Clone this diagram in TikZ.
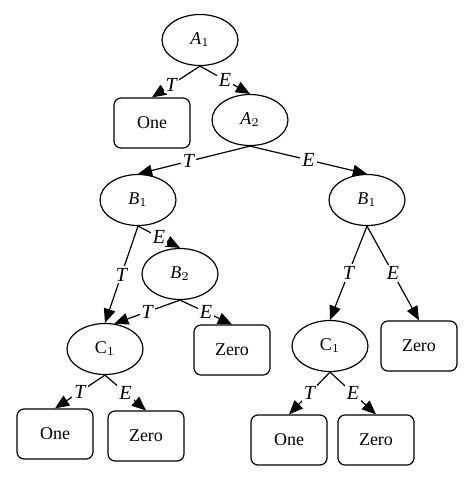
\documentclass[tikz,border=0pt]{standalone}
\usepackage{fontspec}
\setmainfont{Liberation Serif}
\usetikzlibrary{shapes.geometric, arrows}
\tikzstyle{test} = [ellipse, minimum width=38pt, minimum height=25.5pt, inner sep=0pt, text centered, draw=black, line width=0.6pt]
\tikzstyle{leaf} = [rectangle, rounded corners=3.5pt, minimum width=38pt, minimum height=25pt, inner sep=0pt, text centered, draw=black, line width=0.6pt]
\tikzstyle{edge} = [line width=0.6pt, -triangle 45]
\tikzstyle{lbl} = [fill=white, inner sep=1pt, font=\itshape]

\begin{document}
\begin{tikzpicture}[node distance=40pt, font=\fontsize{9}{11}\selectfont]
\useasboundingbox (0,0) rectangle (237pt,-242pt);

\node (a1) [test] at (100pt,-20pt) {$\mathit{A}_1$};
\node (one1) [leaf, xshift=-24pt, yshift=-1.5pt, below of=a1] {One};
\node (a2) [test, xshift=25pt, below of=a1] {$\mathit{A}_2$};
\node (b1l) [test, xshift=-56pt, below of=a2] {$\mathit{B}_1$};
\node (b1r) [test, xshift=58.5pt, below of=a2] {$\mathit{B}_1$};
\node (b2) [test, xshift=21pt, yshift=3pt, below of=b1l] {$\mathit{B}_2$};
\node (c1l) [test, xshift=-37.5pt, yshift=2.5pt, below of=b2] {$\mathrm{C}_1$};
\node (zerom) [leaf, xshift=26pt, yshift=2pt, below of=b2] {Zero};
\node (c1r) [test, xshift=-18.5pt, yshift=-33pt, below of=b1r] {$\mathrm{C}_1$};
\node (zeror) [leaf, xshift=26pt, yshift=-33pt, below of=b1r] {Zero};
\node (onel) [leaf, xshift=-25pt, yshift=-2.5pt, below of=c1l] {One};
\node (zerol) [leaf, xshift=20.5pt, yshift=-3.5pt, below of=c1l] {Zero};
\node (oner) [leaf, xshift=-20.5pt, yshift=-7pt, below of=c1r] {One};
\node (zeror2) [leaf, xshift=23pt, yshift=-7pt, below of=c1r] {Zero};

\draw [edge] (a1.south) -- node[lbl, pos=0.6]{T} (one1.north);
\draw [edge] (a1.south) -- node[lbl]{E} (a2.north);
\draw [edge] (a2.south) -- node[lbl, pos=0.55]{T} (b1l.north);
\draw [edge] (a2.south) -- node[lbl]{E} (b1r.north);
\draw [edge] (b1l.south) -- node[lbl]{T} (c1l.north);
\draw [edge] (b1l.south) -- node[lbl]{E} (b2.north);
\draw [edge] (b2.south) -- node[lbl]{T} (c1l.70);
\draw [edge] (b2.south) -- node[lbl]{E} (zerom.north);
\draw [edge] (b1r.south) -- node[lbl]{T} (c1r.north);
\draw [edge] (b1r.south) -- node[lbl]{E} (zeror.north);
\draw [edge] (c1l.south) -- node[lbl]{T} (onel.north);
\draw [edge] (c1l.south) -- node[lbl]{E} (zerol.north);
\draw [edge] (c1r.south) -- node[lbl]{T} (oner.north);
\draw [edge] (c1r.south) -- node[lbl]{E} (zeror2.north);

\end{tikzpicture}
\end{document}
